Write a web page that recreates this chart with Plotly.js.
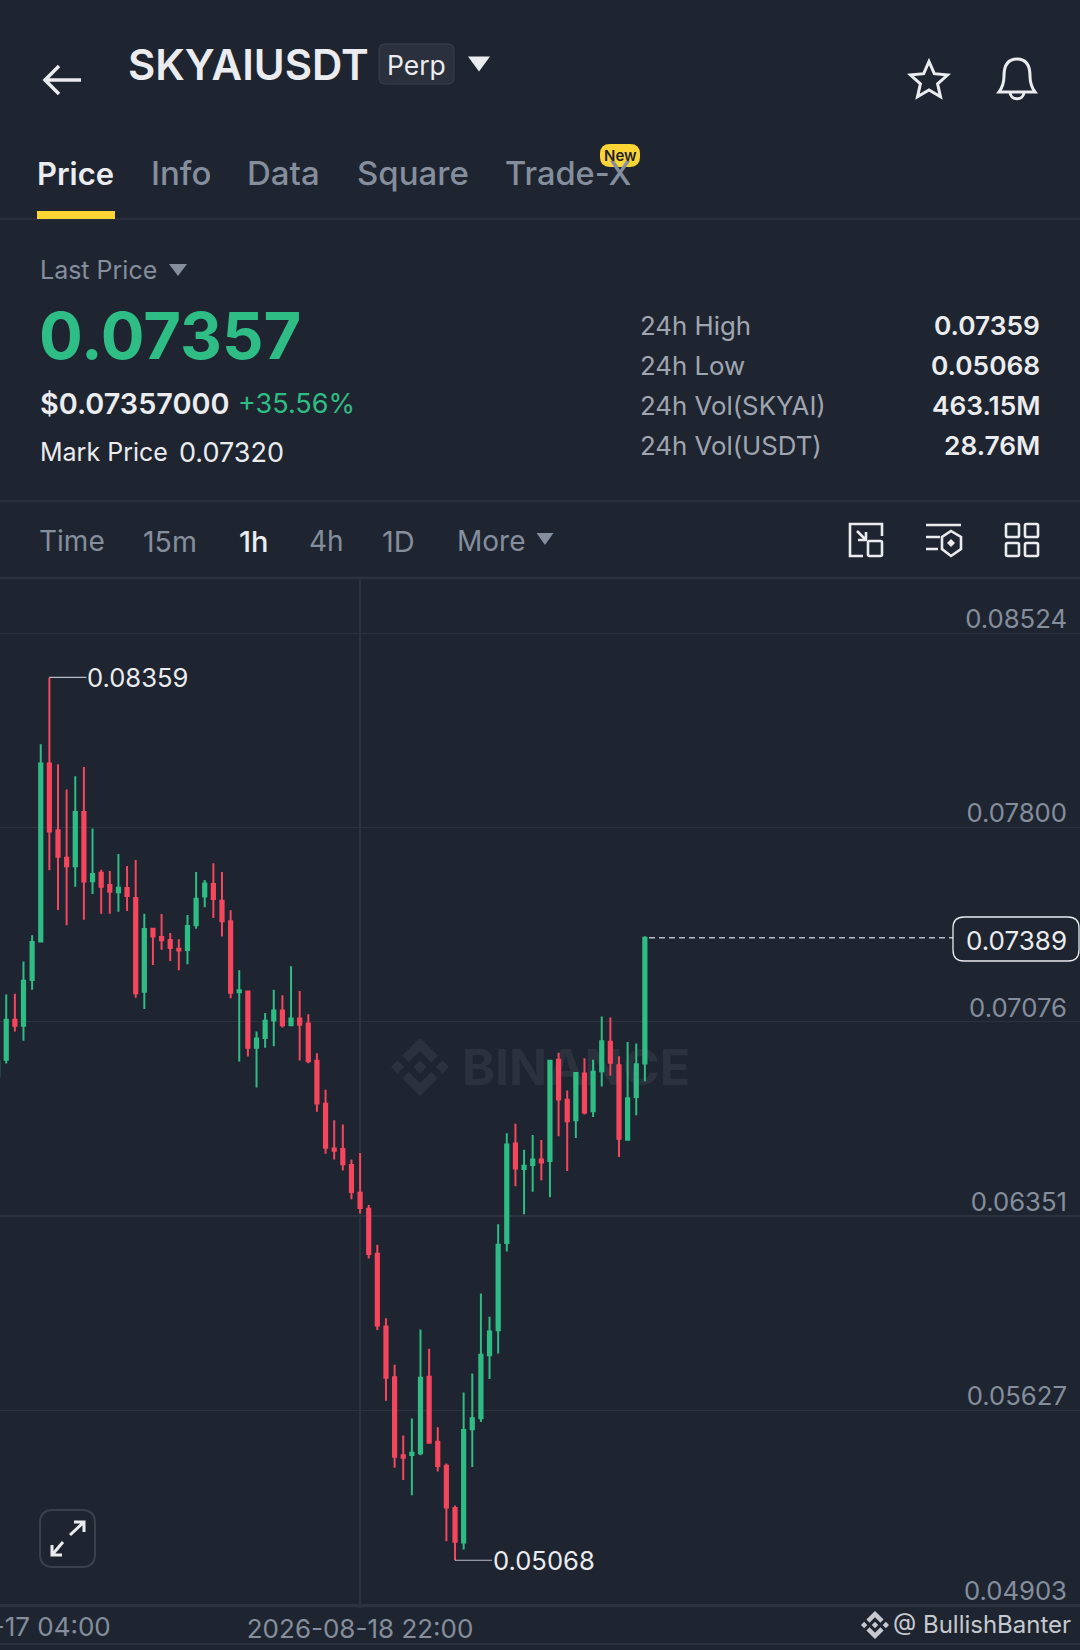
<!DOCTYPE html>
<html><head><meta charset="utf-8">
<script src="https://cdn.plot.ly/plotly-3.0.1.min.js"></script>
<style>html,body{margin:0;padding:0;background:#1f2530}#c{width:1080px;height:1650px}</style>
</head><body><div id="c"></div>
<script>
const times=["2026-08-17 04:00","2026-08-17 05:00","2026-08-17 06:00","2026-08-17 07:00","2026-08-17 08:00","2026-08-17 09:00","2026-08-17 10:00","2026-08-17 11:00","2026-08-17 12:00","2026-08-17 13:00","2026-08-17 14:00","2026-08-17 15:00","2026-08-17 16:00","2026-08-17 17:00","2026-08-17 18:00","2026-08-17 19:00","2026-08-17 20:00","2026-08-17 21:00","2026-08-17 22:00","2026-08-17 23:00",
"2026-08-18 00:00","2026-08-18 01:00","2026-08-18 02:00","2026-08-18 03:00","2026-08-18 04:00","2026-08-18 05:00","2026-08-18 06:00","2026-08-18 07:00","2026-08-18 08:00","2026-08-18 09:00","2026-08-18 10:00","2026-08-18 11:00","2026-08-18 12:00","2026-08-18 13:00","2026-08-18 14:00","2026-08-18 15:00","2026-08-18 16:00","2026-08-18 17:00","2026-08-18 18:00","2026-08-18 19:00","2026-08-18 20:00","2026-08-18 21:00","2026-08-18 22:00","2026-08-18 23:00",
"2026-08-19 00:00","2026-08-19 01:00","2026-08-19 02:00","2026-08-19 03:00","2026-08-19 04:00","2026-08-19 05:00","2026-08-19 06:00","2026-08-19 07:00","2026-08-19 08:00","2026-08-19 09:00","2026-08-19 10:00","2026-08-19 11:00","2026-08-19 12:00","2026-08-19 13:00","2026-08-19 14:00","2026-08-19 15:00","2026-08-19 16:00","2026-08-19 17:00","2026-08-19 18:00","2026-08-19 19:00","2026-08-19 20:00","2026-08-19 21:00","2026-08-19 22:00","2026-08-19 23:00",
"2026-08-20 00:00","2026-08-20 01:00","2026-08-20 02:00","2026-08-20 03:00","2026-08-20 04:00","2026-08-20 05:00","2026-08-20 06:00","2026-08-20 07:00"];
const opens=[.06872,.06934,.07083,.07061,.07231,.07375,.08038,.07789,.07687,.07655,.07857,.07599,.07631,.07585,.07558,.07574,.07537,.07187,.07422,.07391,.07380,.07348,.07343,.07435,.07542,.07589,.07527,.07450,.07185,.07188,.06979,.07015,.07080,.07117,.07062,.07088,.07069,.06930,.06770,.06603,.06601,.06541,.06438,.06378,.06211,.05939,.05750,.05459,.05460,.05467,.05752,.05510,.05420,.05263,.05134,.05556,.05597,.05832,.05925,.06251,.06622,.06527,.06541,.06562,.06556,.06934,.06785,.06708,.06883,.06742,.06891,.07001,.06913,.06636,.06795,.06920];
const highs=[.06932,.07177,.07180,.07300,.07398,.08110,.08359,.08035,.07941,.07991,.08025,.07796,.07642,.07637,.07701,.07656,.07678,.07478,.07422,.07477,.07406,.07383,.07473,.07634,.07604,.07666,.07634,.07491,.07267,.07190,.07039,.07108,.07195,.07174,.07282,.07190,.07103,.06958,.06822,.06708,.06692,.06562,.06586,.06392,.06244,.05970,.05797,.05533,.05596,.05928,.05856,.05564,.05429,.05272,.05693,.05764,.06062,.05976,.06321,.06660,.06695,.06598,.06653,.06635,.06933,.06960,.06819,.06884,.06939,.06934,.07095,.07091,.06947,.07000,.06994,.07394];
const lows=[.06858,.06920,.07039,.07005,.07195,.07375,.07640,.07492,.07435,.07579,.07456,.07552,.07478,.07478,.07486,.07488,.07165,.07123,.07287,.07344,.07302,.07267,.07290,.07422,.07502,.07462,.07393,.07163,.06927,.06946,.06830,.06979,.06984,.07054,.07061,.06931,.06921,.06740,.06583,.06562,.06521,.06414,.06361,.06193,.05926,.05663,.05413,.05367,.05310,.05459,.05504,.05399,.05139,.05068,.05108,.05416,.05583,.05744,.05839,.06219,.06462,.06358,.06442,.06485,.06421,.06649,.06519,.06642,.06730,.06720,.06834,.06874,.06571,.06636,.06727,.06854];
const closes=[.06930,.07083,.07061,.07228,.07373,.08038,.07785,.07691,.07655,.07857,.07598,.07626,.07579,.07560,.07575,.07544,.07182,.07421,.07393,.07379,.07350,.07341,.07432,.07534,.07591,.07533,.07450,.07184,.07193,.06979,.07013,.07079,.07117,.07062,.07088,.07064,.06928,.06771,.06606,.06595,.06544,.06441,.06381,.06210,.05943,.05748,.05454,.05450,.05469,.05748,.05506,.05419,.05265,.05137,.05554,.05597,.05834,.05921,.06244,.06618,.06528,.06539,.06562,.06551,.06930,.06786,.06705,.06884,.06737,.06889,.07003,.06923,.06639,.06790,.06917,.07389];
const priceTicks=[0.08524,0.07800,0.07076,0.06351,0.05627,0.04903];
const priceTickText=["0.08524","0.07800","0.07076","0.06351","0.05627","0.04903"];
const timeTicks=["2026-08-18 22:00"];
const timeTickText=["2026-08-18 22:00"];
const highMark={x:"2026-08-17 10:00",y:0.08359,text:"0.08359"};
const lowMark={x:"2026-08-19 09:00",y:0.05068,text:"0.05068"};
const currentPrice=0.07389;

const BG='#1f2530',GRID='#2d333e',RED='#f6465d',GREEN='#2ebd85',WHITE='#eaecef',GREY='#848e9c',FONT='Inter, sans-serif';
const W=1080,H=1650;
const px=x=>x/W, py=y=>1-y/H;
const pth=s=>s.replace(/(-?[\d.]+),(-?[\d.]+)/g,(m,a,b)=>px(+a).toFixed(6)+','+py(+b).toFixed(6));
const anns=[],shapes=[];
function T(text,x,y,size,color,opt){opt=opt||{};anns.push({text:text,x:px(x),y:py(y),xref:'paper',yref:'paper',xanchor:opt.a||'left',yanchor:'middle',showarrow:false,borderpad:0,font:{family:FONT,size:size,color:color,weight:opt.w||400}});}
function S(path,o){o=o||{};shapes.push({type:'path',xref:'paper',yref:'paper',path:pth(path),layer:o.layer||'above',fillcolor:o.fill||'rgba(0,0,0,0)',line:{color:o.color||'rgba(0,0,0,0)',width:o.width===undefined?0:o.width}});}
function HL(y,w,c){S(`M0,${y} L1080,${y}`,{color:c||GRID,width:w||1.5,layer:'below'});}
function rr(x0,y0,x1,y1,r){return `M${x0+r},${y0} L${x1-r},${y0} Q${x1},${y0} ${x1},${y0+r} L${x1},${y1-r} Q${x1},${y1} ${x1-r},${y1} L${x0+r},${y1} Q${x0},${y1} ${x0},${y1-r} L${x0},${y0+r} Q${x0},${y0} ${x0+r},${y0} Z`;}
function tri(cx,cy,w,h,c){S(`M${cx-w/2},${cy-h/2} L${cx+w/2},${cy-h/2} L${cx},${cy+h/2} Z`,{fill:c});}
function logo(cx,cy,s,c,layer){
  const polys=[[[38.73,53.2],[63.3,28.64],[87.88,53.22],[102.18,38.93],[63.3,0],[24.44,38.88]],[[0,63.31],[14.3,49.01],[28.59,63.31],[14.3,77.6]],[[38.73,73.42],[63.3,97.99],[87.88,73.41],[102.18,87.7],[63.3,126.6],[24.43,87.7]],[[98,63.31],[112.3,49.01],[126.61,63.31],[112.31,77.6]],[[77.83,63.3],[63.3,48.76],[48.78,63.27],[63.3,77.82]]];
  const k=s/126.61;
  S(polys.map(p=>'M'+p.map(q=>(cx+(q[0]-63.3)*k).toFixed(2)+','+(cy+(q[1]-63.3)*k).toFixed(2)).join(' L')+' Z').join(' '),{fill:c,layer:layer});
}
/* header */
T('SKYAIUSDT',127,64,42,WHITE,{w:600});
S(rr(379,44,454,84,6),{fill:'#2b313c',color:'#3a404c',width:1});
T('Perp',416.5,65,26.5,WHITE,{a:'center'});
tri(479,64,22,15,WHITE);
S('M45,80 L81,80 M59,66 L45,80 L59,94',{color:WHITE,width:3.5});
(function(){let d='',cx=929,cy=81;for(let i=0;i<10;i++){const r=i%2?9:19.5,a=-Math.PI/2+i*Math.PI/5;d+=(i?'L':'M')+(cx+r*Math.cos(a)).toFixed(1)+','+(cy+r*Math.sin(a)).toFixed(1)+' ';}S(d+'Z',{color:WHITE,width:3});})();
S('M1017,59 C1006,59 1004,68 1004,76 C1004,84 1002,88 999,92 L1035,92 C1032,88 1030,84 1030,76 C1030,68 1028,59 1017,59 Z M1010,92 C1010,101 1024,101 1024,92',{color:WHITE,width:3});
/* tabs */
T('Price',36,173,31,WHITE,{w:600});
T('Info',150,173,33,GREY,{w:500});
T('Data',246,173,33,GREY,{w:500});
T('Square',356,173,33,GREY,{w:500});
T('Trade-X',504,173,32.6,GREY,{w:500});
S('M37,211 L115,211 L115,219 L37,219 Z',{fill:'#fcd535'});
S(rr(600,144,640,167,10),{fill:'#fcd535'});
T('New',620,156,15,'#1e2329',{a:'center',w:600});
HL(219);
/* price block */
T('Last Price',39,270,25,GREY);
tri(178,270,18,12,GREY);
T('0.07357',38,336,65,GREEN,{w:700});
T('$0.07357000',38.5,403,28.8,WHITE,{w:600});
T('+35.56%',237,403,27,GREEN);
T('Mark Price',39,452,25,WHITE);
T('0.07320',178,452,27,WHITE);
[['24h High','0.07359',326],['24h Low','0.05068',365.5],['24h Vol(SKYAI)','463.15M',405.5],['24h Vol(USDT)','28.76M',446]].forEach(r=>{T(r[0],639,r[2],25.8,'#a0a6b1');T(r[1],1040.5,r[2],26.3,WHITE,{a:'right',w:600});});
HL(501);
/* interval row */
T('Time',37.5,541,28,GREY);T('15m',142,541,28.5,GREY);T('1h',238,541,29,WHITE,{w:500});T('4h',308,541,28,GREY);T('1D',381,541,29,GREY);T('More',456,541,28,GREY);
tri(545,539,17,12,GREY);
const ic={color:WHITE,width:2.6};
S('M882,536 L882,524 L850,524 L850,556 L863,556',ic);S(rr(868,541,882,556,1.5),ic);S('M857,531 L866,540 M866,532 L866,540 L858,540',ic);
S('M926,525 L961,525 M926,537 L940,537 M926,549 L938,549',ic);S('M951,531 L961,537 L961,549 L951,556 L942,549 L942,537 Z',ic);S('M951,539 L955,543 L951,547 L947,543 Z',{fill:WHITE});
[[1006,524],[1025,524],[1006,543],[1025,543]].forEach(p=>S(rr(p[0],p[1],p[0]+13,p[1]+13,1.5),ic));
HL(578,2.5);HL(1606,2.5);HL(1644,2);
/* watermark */
logo(420,1067,58,'#2c323d','below');
shapes.push({type:'rect',xref:'paper',yref:'paper',x0:px(460),x1:px(692),y0:py(1088),y1:py(1042),layer:'below',line:{width:0},fillcolor:'rgba(0,0,0,0)',label:{text:'BINANCE',textposition:'middle center',font:{family:FONT,size:50,color:'#2c323d',weight:700}}});
/* expand button */
S(rr(40,1510,95,1567,13),{color:'#3a404c',width:2});
S('M70,1535 L84,1522 M74,1522 L84,1522 L84,1532 M63,1542 L52,1555 M52,1545 L52,1555 L62,1555',{color:WHITE,width:3});
/* time labels + credit */
T('2026-08-17 04:00',112,1626,26,GREY,{a:'right'});
logo(875,1625,28,'#c6c9cf');
T('@ BullishBanter',892,1624,24,'#c6c9cf');
/* price markers tied to data */
[highMark,lowMark].forEach(m=>anns.push({x:m.x,y:m.y,xref:'x',yref:'y',text:m.text,showarrow:true,arrowhead:0,arrowwidth:1.2,arrowcolor:'#b7bbc3',ax:37,ay:0,xanchor:'left',yanchor:'middle',borderpad:0,font:{family:FONT,size:25.6,color:WHITE}}));
shapes.push({type:'line',xref:'paper',yref:'y',x0:px(649),x1:px(953),y0:currentPrice,y1:currentPrice,line:{color:'#b7bbc3',width:1.5,dash:'6px,4px'}});
shapes.push({type:'path',xref:'paper',yref:'paper',path:pth(rr(953,917,1079,961,11)),fillcolor:BG,line:{color:WHITE,width:1.3}});
T(currentPrice.toFixed(5),1016,940,26,WHITE,{a:'center'});

const trace={type:'candlestick',x:times,open:opens,high:highs,low:lows,close:closes,whiskerwidth:0,hoverinfo:'skip',
 increasing:{line:{color:GREEN,width:2},fillcolor:GREEN},decreasing:{line:{color:RED,width:2},fillcolor:RED}};
const layout={width:W,height:H,margin:{l:0,r:0,t:0,b:0,pad:0},paper_bgcolor:BG,plot_bgcolor:BG,showlegend:false,boxgap:0.47,
 font:{family:FONT},
 xaxis:{domain:[0,1],range:["2026-08-17 04:16:41","2026-08-22 09:25:00"],type:'date',rangeslider:{visible:false},tickmode:'array',tickvals:timeTicks,ticktext:timeTickText,ticks:'',showgrid:true,gridcolor:GRID,gridwidth:1.2,zeroline:false,showline:false,tickfont:{family:FONT,size:26,color:GREY},ticklabelstandoff:3,automargin:false,fixedrange:true},
 yaxis:{domain:[(H-1608)/H,(H-579)/H],range:[0.04890,0.08726],side:'right',tickmode:'array',tickvals:priceTicks,ticktext:priceTickText,ticklabelposition:'inside',ticklabelshift:-14,ticklabelstandoff:10,ticks:'',showgrid:true,gridcolor:GRID,gridwidth:1.2,zeroline:false,showline:false,tickfont:{family:FONT,size:25.7,color:GREY},automargin:false,fixedrange:true},
 annotations:anns,shapes:shapes};
Plotly.newPlot('c',[trace],layout,{displayModeBar:false,staticPlot:true});
</script></body></html>
